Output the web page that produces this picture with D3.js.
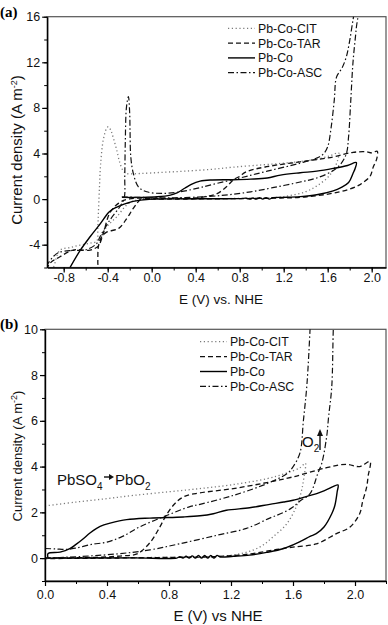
<!DOCTYPE html>
<html>
<head>
<meta charset="utf-8">
<script src="https://cdnjs.cloudflare.com/ajax/libs/d3/7.8.5/d3.min.js"></script>
<style>
  body { margin: 0; background: #fff; }
  svg { display: block; font-family: "Liberation Sans", Arial, sans-serif; }
</style>
</head>
<body>
<svg id="chart" width="388" height="625"></svg>
<script>
// series names (legend order)
var seriesNames = ["Pb-Co-CIT", "Pb-Co-TAR", "Pb-Co", "Pb-Co-ASC"];

// ---- panel (a) data : [E (V), j (A m-2)] ----
var citA = [[-0.93,-6.5],[-0.894,-6],[-0.834,-4.48],[-0.74,-4.25],[-0.652,-4.04],[-0.55,-3.85],[-0.5,-3.7],[-0.49,-2.5],[-0.485,-1.3],
  [-0.475,1.0],[-0.465,3.0],[-0.44,5.2],[-0.41,6.2],[-0.394,6.35],[-0.37,6.0],[-0.35,5.4],[-0.318,4.3],[-0.29,3.2],[-0.26,2.5],
  [-0.227,2.25],[-0.1,2.25],[0.1,2.35],[0.3,2.45],[0.53,2.6],[0.74,2.8],[1.0,3.0],[1.2,3.15],[1.35,3.3],[1.5,3.5],[1.62,3.8],
  [1.7,4.05],[1.69,3.4],[1.66,2.7],[1.6,1.9],[1.5,1.15],[1.4,0.65],[1.25,0.3],[1.1,0.12],[0.8,0.06],[0.4,0.03],[0.1,0.02],
  [-0.1,0.0],[-0.21,-0.38],[-0.318,-1.55],[-0.409,-2.43],[-0.47,-3.4]];
var tarA = [[-0.1,0.0],[-0.136,-0.38],[-0.18,-1.0],[-0.227,-1.7],[-0.3,-2.57],[-0.41,-2.9],[-0.46,-3.4],[-0.485,-4.2],[-0.49,-5.5],
  [-0.495,-6.6],[-0.96,-6.6],[-0.925,-5.64],[-0.834,-5.06],[-0.713,-4.47],[-0.56,-4.47],[-0.485,-4.1],[-0.44,-3.0],[-0.38,-1.2],
  [-0.3,-0.35],[-0.2,0.02],[0.1,0.05],[0.4,0.1],[0.5,0.25],[0.59,0.45],[0.68,1.08],[0.74,1.67],[0.8,2.0],[0.86,2.4],[1.045,2.84],
  [1.35,3.27],[1.65,3.7],[1.83,4.1],[1.95,4.15],[2.0,4.05],[2.05,4.2],[2.045,3.5],[2.015,2.84],[1.985,2.0],[1.92,1.45],[1.86,1.1],
  [1.71,0.64],[1.41,0.2],[1.1,0.08],[0.6,0.03],[0.2,0.0],[-0.1,0.0]];
var coA = [[-0.27,0.15],[-0.1,0.15],[0.05,0.2],[0.17,0.35],[0.23,0.55],[0.3,0.95],[0.36,1.3],[0.44,1.58],[0.55,1.68],[0.74,1.7],
  [0.9,1.75],[1.05,1.85],[1.17,2.1],[1.35,2.31],[1.5,2.45],[1.65,2.69],[1.78,2.95],[1.86,3.2],[1.85,2.7],[1.83,2.25],[1.79,1.45],
  [1.72,1.0],[1.65,0.72],[1.5,0.38],[1.35,0.22],[1.2,0.15],[1.1,0.12],[1.07,0.0],[1.04,0.12],[1.01,0.0],[0.98,0.12],[0.95,0.0],
  [0.92,0.1],[0.89,0.0],[0.86,0.08],[0.8,0.04],[0.5,0.03],[0.2,0.02],[0,0],[-0.1,-0.09],[-0.17,-0.2],[-0.23,-0.38],[-0.29,-0.6],
  [-0.35,-0.85],[-0.39,-1.15],[-0.47,-2.2],[-0.56,-3.3],[-0.65,-4.5],[-0.76,-6.3]];
var ascA = [[-0.96,-5.9],[-0.9,-5.1],[-0.85,-4.7],[-0.72,-4.5],[-0.6,-4.45],[-0.5,-3.9],[-0.47,-3.3],[-0.38,-1.84],[-0.29,-0.67],
  [-0.25,0.1],[-0.245,2.0],[-0.24,5.0],[-0.23,8.0],[-0.212,9.0],[-0.2,7.5],[-0.197,6.0],[-0.19,3.7],[-0.167,2.25],[-0.121,1.08],
  [-0.045,0.64],[0.106,0.5],[0.257,0.64],[0.41,0.94],[0.53,1.23],[0.8,1.85],[1.05,2.45],[1.35,3.15],[1.5,3.6],[1.56,3.95],
  [1.6,4.6],[1.63,6.2],[1.66,8.7],[1.68,10.7],[1.73,11.5],[1.77,12.5],[1.8,13.9],[1.83,15.7],[1.85,16.6],[1.875,16.6],[1.86,15.0],
  [1.83,12.0],[1.81,8.7],[1.79,5.5],[1.77,4.0],[1.72,3.1],[1.65,2.5],[1.5,1.85],[1.35,1.5],[1.1,1.0],[0.9,0.64],[0.7,0.38],
  [0.5,0.22],[0.2,0.12],[-0.1,0.15],[-0.28,0.2]];

// ---- panel (b) data ----
var citB = [[0.0,2.28],[0.2,2.45],[0.4,2.6],[0.57,2.74],[0.8,2.9],[1.0,3.04],[1.2,3.2],[1.43,3.47],[1.55,3.7],[1.645,3.95],
  [1.68,4.15],[1.672,3.6],[1.66,3.1],[1.645,2.7],[1.62,2.23],[1.56,1.5],[1.47,0.92],[1.39,0.5],[1.28,0.22],[1.13,0.08],
  [0.9,0.04],[0.5,0.02],[0.0,0.0]];
var tarB = [[0.0,0.0],[0.2,0.02],[0.4,0.05],[0.5,0.1],[0.55,0.12],[0.6,0.2],[0.68,0.7],[0.74,1.35],[0.78,1.85],[0.84,2.4],
  [0.9,2.7],[1.0,2.85],[1.215,3.04],[1.43,3.3],[1.6,3.55],[1.817,3.95],[1.946,4.1],[2.03,4.0],[2.097,4.22],[2.085,3.6],
  [2.075,3.1],[2.05,2.5],[2.03,1.94],[1.968,1.36],[1.88,1.07],[1.75,0.62],[1.6,0.48],[1.495,0.38],[1.32,0.18],[1.11,0.07],
  [0.8,0.03],[0.4,0.0],[0.0,-0.02]];
var coB = [[0.02,0.0],[0.02,0.2],[0.097,0.26],[0.16,0.41],[0.2,0.6],[0.247,0.85],[0.29,1.1],[0.333,1.3],[0.38,1.45],[0.42,1.53],
  [0.527,1.68],[0.677,1.75],[0.892,1.8],[1.0,1.85],[1.086,1.94],[1.17,2.09],[1.32,2.2],[1.45,2.35],[1.54,2.45],[1.6,2.53],
  [1.69,2.7],[1.753,2.82],[1.82,3.0],[1.89,3.2],[1.885,2.9],[1.87,2.3],[1.85,1.94],[1.8,1.36],[1.75,1.07],[1.71,0.95],
  [1.645,0.72],[1.54,0.42],[1.43,0.25],[1.32,0.13],[1.215,0.08],[1.13,0.05],[1.11,0.12],[1.09,0.0],[1.07,0.12],[1.05,0.0],
  [1.03,0.12],[1.01,0.0],[0.99,0.12],[0.97,0.0],[0.95,0.1],[0.93,0.0],[0.91,0.08],[0.89,0.0],[0.87,0.06],[0.85,0.0],
  [0.57,0.01],[0.02,0.0]];
var ascB = [[0.0,0.42],[0.07,0.4],[0.14,0.38],[0.2,0.44],[0.3,0.6],[0.4,0.7],[0.5,0.95],[0.61,1.36],[0.78,1.85],[0.935,2.25],
  [1.0,2.35],[1.215,2.74],[1.43,3.25],[1.56,3.69],[1.6,3.99],[1.645,4.6],[1.667,6.0],[1.69,7.6],[1.71,10],[1.72,11.5],
  [1.87,11.5],[1.86,10],[1.85,7.48],[1.83,6.2],[1.817,5.3],[1.785,4.13],[1.76,3.7],[1.71,2.82],[1.645,2.5],[1.6,2.23],
  [1.54,2.0],[1.45,1.75],[1.3,1.3],[1.11,1.0],[0.87,0.63],[0.677,0.36],[0.46,0.18],[0.14,0.04],[0.0,0.01]];

// tick values / labels
var xTicksA = [-0.8,-0.4,0.0,0.4,0.8,1.2,1.6,2.0];
var xTickLabelsA = ["-0.8","-0.4","0.0","0.4","0.8","1.2","1.6","2.0"];
var yTicksA = [-4,0,4,8,12,16];
var yTickLabelsA = ["-4","0","4","8","12","16"];
var xTicksB = [0.0,0.4,0.8,1.2,1.6,2.0];
var xTickLabelsB = ["0.0","0.4","0.8","1.2","1.6","2.0"];
var yTicksB = [0,2,4,6,8,10];
var yTickLabelsB = ["0","2","4","6","8","10"];

var styles = [
  { stroke: "#7a7a7a", dash: "1.2,2.6", width: 1.3 },
  { stroke: "#111", dash: "5,3", width: 1.3 },
  { stroke: "#000", dash: null, width: 1.4 },
  { stroke: "#111", dash: "6,2.5,1.5,2.5", width: 1.2 }
];

var svg = d3.select("#chart");

function drawPanel(cfg) {
  var x = d3.scaleLinear().domain(cfg.xDomain).range([cfg.left, cfg.right]);
  var y = d3.scaleLinear().domain(cfg.yDomain).range([cfg.bottom, cfg.top]);
  var g = svg.append("g");

  g.append("clipPath").attr("id", cfg.id + "-clip")
    .append("rect")
    .attr("x", cfg.left).attr("y", cfg.top)
    .attr("width", cfg.right - cfg.left).attr("height", cfg.bottom - cfg.top);

  // frame (top / right)
  g.append("rect")
    .attr("x", cfg.left).attr("y", cfg.top)
    .attr("width", cfg.right - cfg.left).attr("height", cfg.bottom - cfg.top)
    .attr("fill", "none").attr("stroke", "#555").attr("stroke-width", 1.2);

  var line = d3.line()
    .x(function (d) { return x(d[0]); })
    .y(function (d) { return y(d[1]); })
    .curve(d3.curveCatmullRom.alpha(0.5));

  var curves = g.append("g").attr("clip-path", "url(#" + cfg.id + "-clip)");
  cfg.series.forEach(function (s, i) {
    curves.append("path")
      .datum(s)
      .attr("d", line)
      .attr("fill", "none")
      .attr("stroke", styles[i].stroke)
      .attr("stroke-width", styles[i].width)
      .attr("stroke-dasharray", styles[i].dash);
  });

  // minor ticks
  g.append("g")
    .attr("transform", "translate(0," + cfg.bottom + ")")
    .call(d3.axisBottom(x).tickValues(cfg.xMinor).tickSize(3).tickFormat(""))
    .call(function (a) { a.select(".domain").remove(); });
  g.append("g")
    .attr("transform", "translate(" + cfg.left + ",0)")
    .call(d3.axisLeft(y).tickValues(cfg.yMinor).tickSize(3).tickFormat(""))
    .call(function (a) { a.select(".domain").remove(); });

  // major axes
  var xa = g.append("g")
    .attr("transform", "translate(0," + cfg.bottom + ")")
    .call(d3.axisBottom(x).tickValues(cfg.xTicks).tickSize(5).tickSizeOuter(0)
      .tickFormat(function (d, i) { return cfg.xLabels[i]; }));
  var ya = g.append("g")
    .attr("transform", "translate(" + cfg.left + ",0)")
    .call(d3.axisLeft(y).tickValues(cfg.yTicks).tickSize(5).tickSizeOuter(0)
      .tickFormat(function (d, i) { return cfg.yLabels[i]; }));
  [xa, ya].forEach(function (a) {
    a.select(".domain").attr("stroke", "#000").attr("stroke-width", 1.4);
    a.selectAll(".tick line").attr("stroke", "#000").attr("stroke-width", 1.2);
    a.selectAll("text").style("font-size", "12.5px").style("fill", "#111")
      .style("font-family", "'Liberation Sans', Arial, sans-serif");
  });
  xa.selectAll("text").attr("y", cfg.xLabelOffset).attr("dy", "0.71em");
  ya.selectAll("text").attr("dx", "1px");

  // axis titles
  svg.append("text")
    .attr("x", cfg.xTitleX).attr("y", cfg.xTitleY)
    .attr("text-anchor", "middle")
    .style("font-size", cfg.xTitleSize + "px").style("fill", "#111")
    .text(cfg.xTitle);

  var yt = svg.append("text")
    .attr("transform", "translate(" + cfg.yTitleX + "," + cfg.yTitleY + ") rotate(-90)")
    .attr("text-anchor", "middle")
    .style("font-size", cfg.yTitleSize + "px").style("fill", "#111");
  yt.append("tspan").text("Current density (A m");
  yt.append("tspan").attr("dy", "-5").style("font-size", "9px").text("-2");
  yt.append("tspan").attr("dy", "5").text(")");

  // panel letter
  svg.append("text")
    .attr("x", 0).attr("y", cfg.letterY)
    .style("font-family", "'Liberation Serif', 'Times New Roman', serif")
    .style("font-weight", "bold").style("font-size", "15px")
    .text(cfg.letter);

  // legend
  var lg = g.append("g");
  seriesNames.forEach(function (name, i) {
    var yy = cfg.legendY + i * cfg.legendStep;
    lg.append("line")
      .attr("x1", cfg.legendX).attr("x2", cfg.legendX + 27)
      .attr("y1", yy).attr("y2", yy)
      .attr("stroke", styles[i].stroke)
      .attr("stroke-width", styles[i].width)
      .attr("stroke-dasharray", styles[i].dash);
    lg.append("text")
      .attr("x", cfg.legendX + 30).attr("y", yy + 4.5)
      .style("font-size", "12.3px").style("fill", "#111")
      .text(name);
  });
  return { x: x, y: y };
}

drawPanel({
  id: "a", letter: "(a)", letterY: 17,
  left: 47.2, right: 386, top: 16.7, bottom: 267.5,
  xDomain: [-0.95, 2.13], yDomain: [-6, 16],
  xTicks: xTicksA, xLabels: xTickLabelsA, yTicks: yTicksA, yLabels: yTickLabelsA,
  xMinor: d3.range(-0.8, 2.15, 0.2), yMinor: d3.range(-6, 16.1, 2),
  series: [citA, tarA, coA, ascA],
  xLabelOffset: 5.5,
  xTitle: "E (V) vs. NHE", xTitleX: 221, xTitleY: 303.5, xTitleSize: 13.5,
  yTitleX: 22, yTitleY: 150, yTitleSize: 15,
  legendX: 228, legendY: 28.3, legendStep: 14.8
});

drawPanel({
  id: "b", letter: "(b)", letterY: 329,
  left: 45, right: 386, top: 329.3, bottom: 581,
  xDomain: [0, 2.2], yDomain: [-1, 10],
  xTicks: xTicksB, xLabels: xTickLabelsB, yTicks: yTicksB, yLabels: yTickLabelsB,
  xMinor: d3.range(0, 2.21, 0.2), yMinor: d3.range(-1, 10.1, 1),
  series: [citB, tarB, coB, ascB],
  xLabelOffset: 9,
  xTitle: "E (V) vs NHE", xTitleX: 218, xTitleY: 620.5, xTitleSize: 15,
  yTitleX: 22, yTitleY: 456, yTitleSize: 13,
  legendX: 200, legendY: 341.7, legendStep: 14.9
});

// annotations in panel (b)
var ann = svg.append("g").style("font-size", "15px").style("fill", "#111");
var t1 = ann.append("text").attr("x", 57).attr("y", 485);
t1.append("tspan").text("PbSO");
t1.append("tspan").attr("dy", 5).style("font-size", "10px").text("4");
var t2 = ann.append("text").attr("x", 115).attr("y", 485);
t2.append("tspan").text("PbO");
t2.append("tspan").attr("dy", 5).style("font-size", "10px").text("2");
ann.append("line").attr("x1", 104).attr("x2", 110).attr("y1", 477).attr("y2", 477)
  .attr("stroke", "#111").attr("stroke-width", 1.4);
ann.append("path").attr("d", "M109,474 L114,477 L109,480 Z").attr("fill", "#111");

var t3 = ann.append("text").attr("x", 302).attr("y", 447);
t3.append("tspan").text("O");
t3.append("tspan").attr("dy", 5).style("font-size", "10px").text("2");
ann.append("line").attr("x1", 320).attr("x2", 320).attr("y1", 450).attr("y2", 435)
  .attr("stroke", "#111").attr("stroke-width", 1.4);
ann.append("path").attr("d", "M317,436 L320,429 L323,436 Z").attr("fill", "#111");
</script>
</body>
</html>
